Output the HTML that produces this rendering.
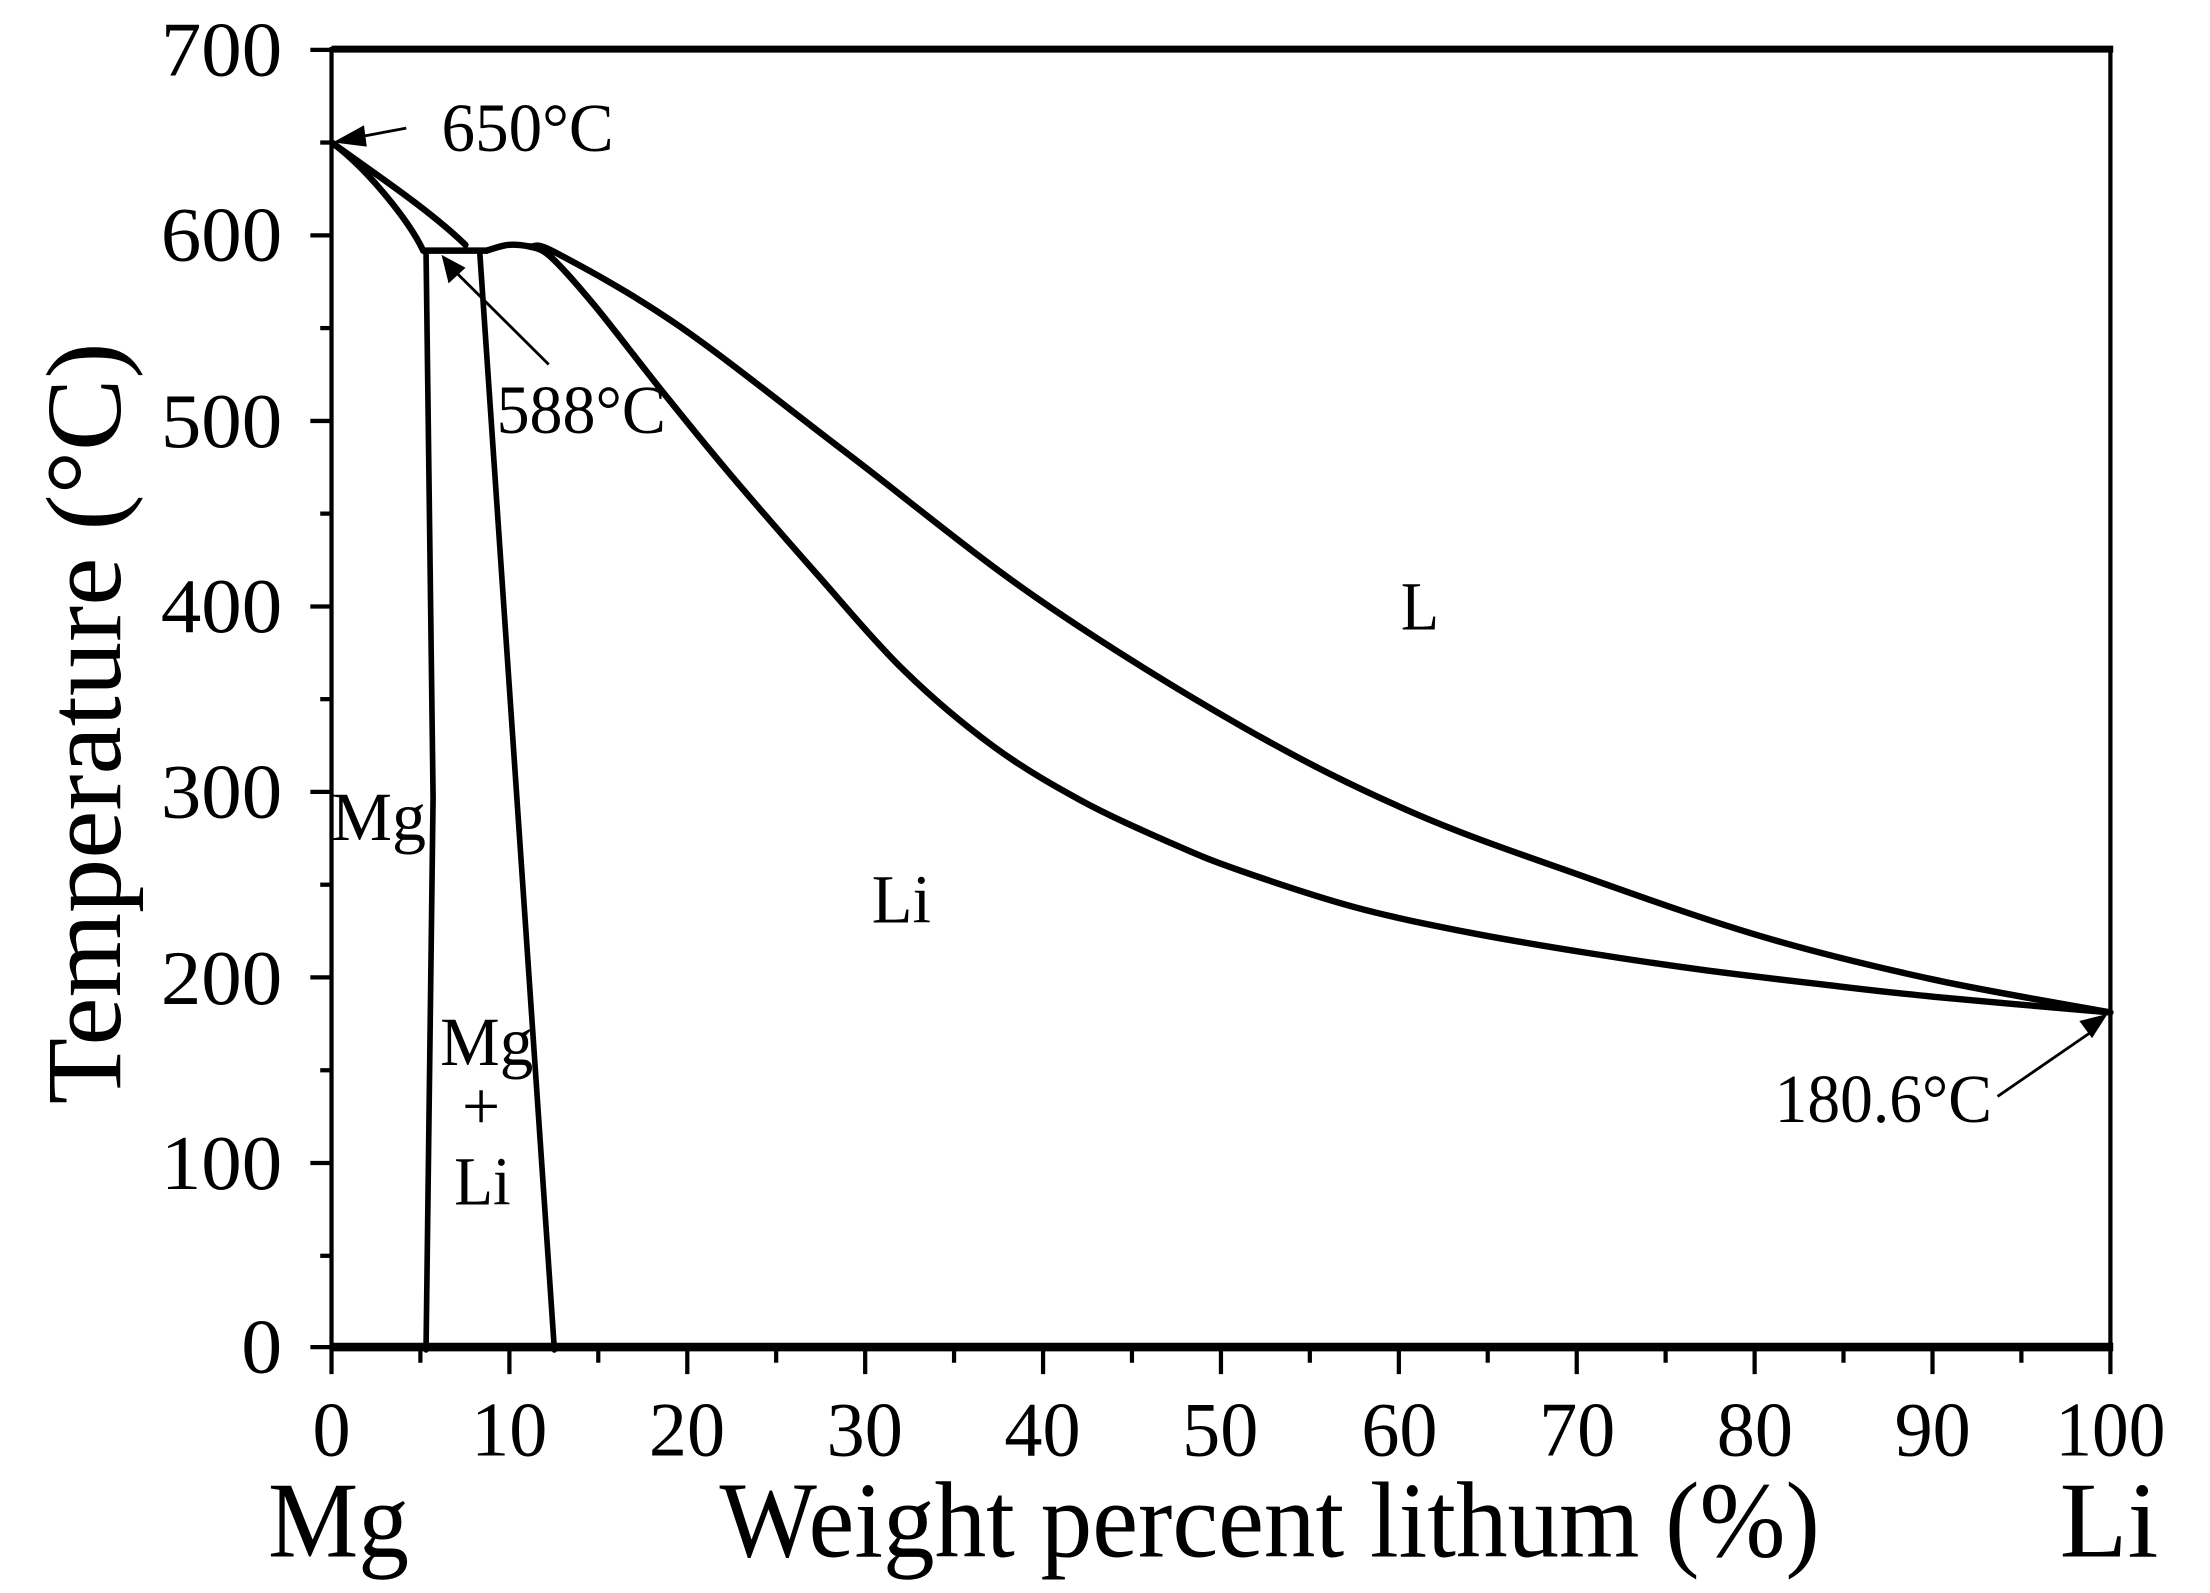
<!DOCTYPE html>
<html><head><meta charset="utf-8"><style>
html,body{margin:0;padding:0;background:#fff;}
svg{display:block;}
text{font-family:"Liberation Serif",serif;fill:#000;}
</style></head><body>
<svg width="2210" height="1593" viewBox="0 0 1566.6 1118.7" preserveAspectRatio="none" xmlns="http://www.w3.org/2000/svg">
<line x1="235" y1="34.5" x2="1498" y2="34.5" stroke="#000" stroke-width="5"/>
<line x1="235" y1="946" x2="1498" y2="946" stroke="#000" stroke-width="6"/>
<line x1="235" y1="33" x2="235" y2="948" stroke="#000" stroke-width="3"/>
<line x1="1496" y1="33" x2="1496" y2="948" stroke="#000" stroke-width="3"/>
<g stroke="#000" stroke-width="3">
<line x1="220" y1="35" x2="235" y2="35"/>
<line x1="220" y1="165.3" x2="235" y2="165.3"/>
<line x1="220" y1="295.6" x2="235" y2="295.6"/>
<line x1="220" y1="425.9" x2="235" y2="425.9"/>
<line x1="220" y1="556.1" x2="235" y2="556.1"/>
<line x1="220" y1="686.4" x2="235" y2="686.4"/>
<line x1="220" y1="816.7" x2="235" y2="816.7"/>
<line x1="220" y1="946" x2="235" y2="946"/>
<line x1="227" y1="100.1" x2="235" y2="100.1"/>
<line x1="227" y1="230.4" x2="235" y2="230.4"/>
<line x1="227" y1="360.7" x2="235" y2="360.7"/>
<line x1="227" y1="491" x2="235" y2="491"/>
<line x1="227" y1="621.3" x2="235" y2="621.3"/>
<line x1="227" y1="751.6" x2="235" y2="751.6"/>
<line x1="227" y1="881.9" x2="235" y2="881.9"/>
<line x1="235" y1="946" x2="235" y2="965"/>
<line x1="361.1" y1="946" x2="361.1" y2="965"/>
<line x1="487.2" y1="946" x2="487.2" y2="965"/>
<line x1="613.3" y1="946" x2="613.3" y2="965"/>
<line x1="739.4" y1="946" x2="739.4" y2="965"/>
<line x1="865.5" y1="946" x2="865.5" y2="965"/>
<line x1="991.6" y1="946" x2="991.6" y2="965"/>
<line x1="1117.7" y1="946" x2="1117.7" y2="965"/>
<line x1="1243.8" y1="946" x2="1243.8" y2="965"/>
<line x1="1369.9" y1="946" x2="1369.9" y2="965"/>
<line x1="1496" y1="946" x2="1496" y2="965"/>
<line x1="298" y1="946" x2="298" y2="957"/>
<line x1="424.1" y1="946" x2="424.1" y2="957"/>
<line x1="550.2" y1="946" x2="550.2" y2="957"/>
<line x1="676.3" y1="946" x2="676.3" y2="957"/>
<line x1="802.4" y1="946" x2="802.4" y2="957"/>
<line x1="928.5" y1="946" x2="928.5" y2="957"/>
<line x1="1054.6" y1="946" x2="1054.6" y2="957"/>
<line x1="1180.7" y1="946" x2="1180.7" y2="957"/>
<line x1="1306.8" y1="946" x2="1306.8" y2="957"/>
<line x1="1432.9" y1="946" x2="1432.9" y2="957"/>
</g>
<g font-size="54" text-anchor="end">
<text x="200" y="53" textLength="86" lengthAdjust="spacingAndGlyphs">700</text>
<text x="200" y="183" textLength="86" lengthAdjust="spacingAndGlyphs">600</text>
<text x="200" y="314" textLength="86" lengthAdjust="spacingAndGlyphs">500</text>
<text x="200" y="444" textLength="86" lengthAdjust="spacingAndGlyphs">400</text>
<text x="200" y="574" textLength="86" lengthAdjust="spacingAndGlyphs">300</text>
<text x="200" y="705" textLength="86" lengthAdjust="spacingAndGlyphs">200</text>
<text x="200" y="835" textLength="86" lengthAdjust="spacingAndGlyphs">100</text>
<text x="200" y="964" textLength="29" lengthAdjust="spacingAndGlyphs">0</text>
</g>
<g font-size="54" text-anchor="middle">
<text x="235" y="1022" textLength="27" lengthAdjust="spacingAndGlyphs">0</text>
<text x="361" y="1022" textLength="54" lengthAdjust="spacingAndGlyphs">10</text>
<text x="487" y="1022" textLength="54" lengthAdjust="spacingAndGlyphs">20</text>
<text x="613" y="1022" textLength="54" lengthAdjust="spacingAndGlyphs">30</text>
<text x="739" y="1022" textLength="54" lengthAdjust="spacingAndGlyphs">40</text>
<text x="865" y="1022" textLength="54" lengthAdjust="spacingAndGlyphs">50</text>
<text x="992" y="1022" textLength="54" lengthAdjust="spacingAndGlyphs">60</text>
<text x="1118" y="1022" textLength="54" lengthAdjust="spacingAndGlyphs">70</text>
<text x="1244" y="1022" textLength="54" lengthAdjust="spacingAndGlyphs">80</text>
<text x="1370" y="1022" textLength="54" lengthAdjust="spacingAndGlyphs">90</text>
<text x="1496" y="1022" textLength="78" lengthAdjust="spacingAndGlyphs">100</text>
</g>
<text x="0" y="0" font-size="76" text-anchor="middle" transform="translate(85,508) rotate(-90)" textLength="535" lengthAdjust="spacingAndGlyphs">Temperature (°C)</text>
<text x="510" y="1093" font-size="76" textLength="780" lengthAdjust="spacingAndGlyphs">Weight percent lithum (%)</text>
<text x="190" y="1093" font-size="76" textLength="100" lengthAdjust="spacingAndGlyphs">Mg</text>
<text x="1460" y="1093" font-size="76" textLength="70" lengthAdjust="spacingAndGlyphs">Li</text>
<g fill="none" stroke="#000" stroke-width="4.5" stroke-linejoin="round" stroke-linecap="round">
<path d="M235,100 C260,118 290,155 300,176"/>
<path d="M235,100 C270,125 305,148 330,172"/>
<path d="M300,176 L345,176"/>
<path id="up" d=""/>
<path id="lo" d=""/>
<path d="M302,176 L307,560 L302,948" stroke-width="4"/>
<path d="M340,176 L393,948" stroke-width="4"/>
</g>
<g stroke="#000" stroke-width="2">
<line x1="288" y1="90" x2="250" y2="97"/>
<line x1="389" y1="256" x2="322" y2="190"/>
<line x1="1416" y1="770" x2="1482" y2="725"/>
</g>
<polygon points="236,100 258,88 260,103" fill="#000"/>
<polygon points="313,179 318,199 330,188" fill="#000"/>
<polygon points="1494,712 1474,717 1483,729" fill="#000"/>
<g font-size="48">
<text x="313" y="106" textLength="122" lengthAdjust="spacingAndGlyphs">650°C</text>
<text x="352" y="304" textLength="120" lengthAdjust="spacingAndGlyphs">588°C</text>
<text x="1258" y="788" textLength="154" lengthAdjust="spacingAndGlyphs">180.6°C</text>
<text x="993" y="442" textLength="27" lengthAdjust="spacingAndGlyphs">L</text>
<text x="618" y="648" textLength="42" lengthAdjust="spacingAndGlyphs">Li</text>
<text x="235" y="590" textLength="67" lengthAdjust="spacingAndGlyphs">Mg</text>
<text x="312" y="748" textLength="66" lengthAdjust="spacingAndGlyphs">Mg</text>
<text x="341" y="793" text-anchor="middle">+</text>
<text x="322" y="846" textLength="40" lengthAdjust="spacingAndGlyphs">Li</text>
</g>
</svg>
<script>
function cr(p){var d="M"+p[0][0]+","+p[0][1];for(var i=0;i<p.length-1;i++){var a=p[i>0?i-1:0],b=p[i],c=p[i+1],e=p[i+2<p.length?i+2:i+1];var c1=[b[0]+(c[0]-a[0])/6,b[1]+(c[1]-a[1])/6],c2=[c[0]-(e[0]-b[0])/6,c[1]-(e[1]-b[1])/6];d+=" C"+c1.join(",")+" "+c2.join(",")+" "+c.join(",");}return d;}
var up=[[345,176],[360,172],[375,173],[395,178],[480,228],[600,318],[735,420],[880,510],[1000,570],[1124,616],[1250,658],[1371,688],[1496,711]];
var lo=[[375,173],[390,180],[421,214],[468,273],[515,330],[578,402],[641,471],[704,524],[766,562],[830,592],[878,611],[960,637],[1042,655],[1124,669],[1206,681],[1289,691],[1371,700],[1496,711]];
document.getElementById("up").setAttribute("d",cr(up));
document.getElementById("lo").setAttribute("d",cr(lo));
</script>
</body></html>
